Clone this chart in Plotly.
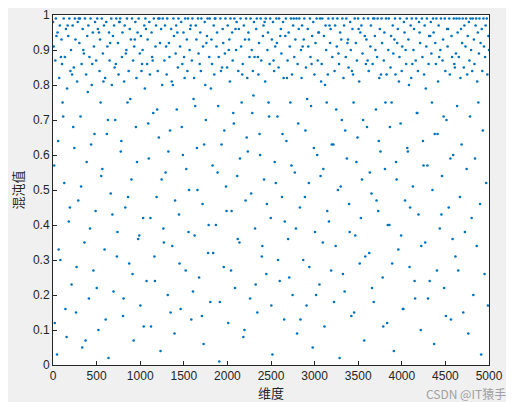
import plotly.graph_objects as go

# chaos values (in hundredths), in order of dimension
chaos_str = """
98 91 12 87 99 03 95 64 82 97 30 93 86 75 99 52 88 96 08 79 94 41 99 84 90 23 97 68 85 99
93 15 81 98 47 92 99 71 86 05 96 89 35 99 83 58 94 97 19 88 99 63 80 95 27 91 98 44 87 99
96 10 84 93 75 99 56 89 97 33 82 98 66 91 02 95 87 49 99 80 94 21 97 70 86 99 38 92 83 98
99 61 88 95 14 81 97 45 90 99 75 84 29 96 93 53 99 87 07 91 98 68 82 95 36 99 89 17 94 86
90 42 97 79 99 24 86 93 59 98 83 11 95 88 72 99 31 91 97 48 84 99 65 92 04 96 80 99 39 87
97 55 83 99 20 92 88 67 96 81 34 99 94 09 89 97 73 85 99 43 91 16 98 86 60 95 82 99 27 93
84 99 50 90 96 13 87 99 76 82 37 97 93 62 99 89 25 95 84 99 46 91 06 98 80 70 94 99 32 88
99 18 93 86 57 97 83 99 40 91 95 74 88 01 99 84 63 96 92 28 89 99 51 85 97 12 93 81 99 44
95 87 69 99 22 90 98 54 84 96 35 99 91 75 86 08 97 93 47 99 82 61 95 88 19 99 90 72 84 98
88 39 96 99 15 83 92 66 99 87 31 94 97 53 81 99 26 90 95 75 86 99 42 93 03 98 84 58 91 99
92 71 85 99 24 96 89 48 98 82 13 94 99 64 87 36 95 91 75 99 83 20 97 88 55 93 99 09 86 96
99 45 90 82 97 30 93 99 67 85 17 96 91 52 99 88 74 94 05 98 83 38 92 99 60 87 95 23 99 81
86 99 56 94 11 97 90 75 83 99 41 92 96 27 88 99 63 84 97 34 91 99 50 86 02 95 93 70 99 82
97 21 88 99 59 93 85 46 98 90 14 96 83 75 99 37 92 87 65 99 81 29 95 97 53 89 99 07 94 86
93 68 99 84 32 91 97 49 86 99 18 94 90 73 88 99 44 82 96 61 99 92 25 87 95 56 99 83 12 90
99 40 85 94 75 97 89 04 99 83 58 92 96 33 88 99 69 84 91 16 98 95 47 86 99 62 93 80 28 97
82 99 51 90 96 19 87 99 72 84 43 95 92 10 99 88 64 83 97 35 91 99 57 86 94 24 98 89 75 99
95 06 92 86 99 66 81 97 39 90 99 54 87 93 22 99 84 70 96 91 45 99 83 13 94 88 60 99 86 31
89 99 74 95 27 88 99 48 82 96 63 92 99 15 85 97 38 91 99 56 83 94 09 98 87 71 99 90 42 84
99 20 93 86 59 97 99 34 81 95 75 89 99 46 92 03 96 84 67 99 91 26 88 97 52 99 83 17 94 90
"""
# second pass of values, interleaved between the first
extra_str = """
57 94 33 88 71 16 97 45 83 62 28 99 51 90 07 78 39 86 66 22 95 54 81 13 70 92 43 85 31 98
64 19 89 48 76 26 93 58 37 84 11 96 69 42 87 24 73 99 53 35 91 61 15 80 47 95 29 68 88 56
38 97 21 74 50 86 14 63 92 40 79 32 99 55 18 85 67 44 90 27 72 96 36 59 83 10 65 93 49 77
23 88 60 34 98 46 71 17 87 52 30 94 66 41 82 25 57 99 39 69 13 91 48 76 28 86 62 20 95 54
35 80 44 97 63 18 73 89 51 26 67 92 38 84 15 58 96 42 70 31 87 55 22 99 47 64 83 11 75 40
68 29 93 53 81 37 16 90 61 45 86 24 72 98 34 57 79 19 94 50 66 27 88 43 71 14 96 59 36 85
"""
chaos_values = []
first = [int(v) / 100 for v in chaos_str.split()]
extra = [int(v) / 100 for v in extra_str.split()]
for i, v in enumerate(first):
    chaos_values.append(v)
    if i % 3 == 1 and i // 3 < len(extra):
        chaos_values.append(extra[i // 3])
n = len(chaos_values)
dims = [1 + i * 4999 / (n - 1) for i in range(n)]

fig = go.Figure(go.Scatter(
    x=dims, y=chaos_values, mode="markers",
    marker=dict(color="#0072BD", size=2.6),
))

axis_common = dict(
    showline=True, linecolor="#262626", linewidth=1, mirror=True,
    ticks="inside", ticklen=4, tickcolor="#262626", showgrid=False, automargin=False,
    zeroline=False, tickfont=dict(family="Liberation Sans, Arial", size=12, color="#262626"),
)
fig.update_xaxes(range=[0, 5000], dtick=500, title=dict(text="维度", standoff=4,
                 font=dict(family="Noto Sans CJK SC", size=13, color="#262626")), **axis_common)
fig.update_yaxes(range=[0, 1], dtick=0.1, tickformat="~g", title=dict(text="混沌值", standoff=6,
                 font=dict(family="Noto Sans CJK SC", size=13, color="#262626")), **axis_common)

fig.update_layout(
    width=506, height=394, plot_bgcolor="white", paper_bgcolor="#f0f0f0",
    margin=dict(l=45, r=25, t=7, b=37), showlegend=False,
)
fig.add_annotation(text="CSDN @IT猿手", xref="paper", yref="paper", x=1.044, y=-0.08,
                   xanchor="right", yanchor="middle", showarrow=False,
                   font=dict(family="Noto Sans CJK SC", size=12, color="#a0a0a0"))

fig.write_html("out.html")
